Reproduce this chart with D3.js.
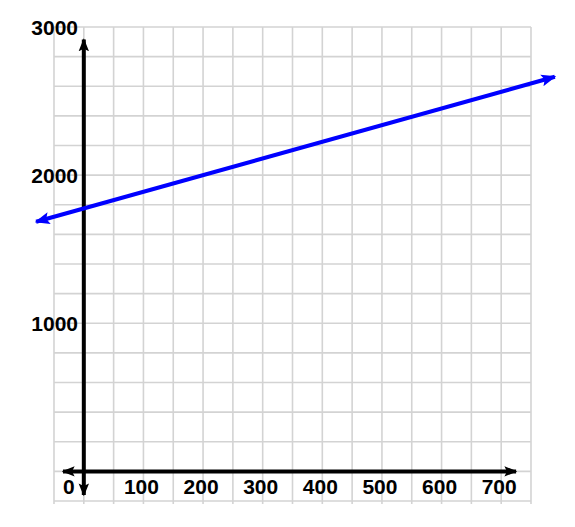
<!DOCTYPE html>
<html>
<head>
<meta charset="utf-8">
<script src="https://cdn.jsdelivr.net/npm/d3@7"></script>
<style>
  body { margin: 0; background: #fff; }
  svg { display: block; }
</style>
</head>
<body>
<svg id="chart" width="575" height="527"></svg>
<script>
// data
const xTicks = [0, 100, 200, 300, 400, 500, 600, 700];
const yTicks = [1000, 2000, 3000];
const lineX = [-80, 790];
const lineY = [1685, 2664];

const width = 575, height = 527;
const svg = d3.select('#chart');

// grid runs one cell past the axes on the left and bottom
const x = d3.scaleLinear().domain([-50, 750]).range([54, 531]);
const y = d3.scaleLinear().domain([-200, 3000]).range([501, 27]);

const defs = svg.append('defs');
const marker = (id, color, size) => defs.append('marker')
    .attr('id', id)
    .attr('viewBox', '0 0 10 10')
    .attr('refX', 9).attr('refY', 5)
    .attr('markerWidth', size).attr('markerHeight', size)
    .attr('markerUnits', 'userSpaceOnUse')
    .attr('orient', 'auto-start-reverse')
    .append('path')
    .attr('d', 'M0,1 L10,5 L0,9 L2,5 Z')
    .attr('fill', color);
marker('arrowK', '#000', 13);
marker('arrowB', '#0000ff', 15);

// grid
const gx = d3.range(-50, 751, 50);
const gy = d3.range(-200, 3001, 200);
const grid = svg.append('g').attr('stroke', '#d3d3d3').attr('stroke-width', 1.6);
grid.selectAll('.v').data(gx).enter().append('line')
    .attr('x1', d => x(d)).attr('x2', d => x(d))
    .attr('y1', y(3000)).attr('y2', y(-200) + 3);
grid.selectAll('.h').data(gy).enter().append('line')
    .attr('y1', d => y(d)).attr('y2', d => y(d))
    .attr('x1', x(-50)).attr('x2', x(750));

// axes
svg.append('line')
    .attr('x1', x(-35)).attr('x2', x(725))
    .attr('y1', y(0)).attr('y2', y(0))
    .attr('stroke', '#000').attr('stroke-width', 4)
    .attr('marker-start', 'url(#arrowK)')
    .attr('marker-end', 'url(#arrowK)');
svg.append('line')
    .attr('x1', x(0)).attr('x2', x(0))
    .attr('y1', y(-160)).attr('y2', y(2915))
    .attr('stroke', '#000').attr('stroke-width', 4)
    .attr('marker-start', 'url(#arrowK)')
    .attr('marker-end', 'url(#arrowK)');

// blue line
const line = d3.line().x(d => x(d[0])).y(d => y(d[1]));
svg.append('path')
    .datum(d3.zip(lineX, lineY))
    .attr('d', line)
    .attr('fill', 'none')
    .attr('stroke', '#0000ff')
    .attr('stroke-width', 4)
    .attr('marker-start', 'url(#arrowB)')
    .attr('marker-end', 'url(#arrowB)');

// labels
const font = 'Liberation Sans, Arial, sans-serif';
svg.append('g').selectAll('text').data(xTicks).enter().append('text')
    .attr('x', d => d === 0 ? x(0) - 15 : x(d) - 2)
    .attr('y', y(0) + 23)
    .attr('text-anchor', 'middle')
    .attr('font-family', font).attr('font-weight', 'bold').attr('font-size', 21)
    .text(d => d);
svg.append('g').selectAll('text').data(yTicks).enter().append('text')
    .attr('x', 78)
    .attr('y', d => y(d))
    .attr('dy', '0.36em')
    .attr('text-anchor', 'end')
    .attr('font-family', font).attr('font-weight', 'bold').attr('font-size', 21)
    .text(d => d);
</script>
</body>
</html>
